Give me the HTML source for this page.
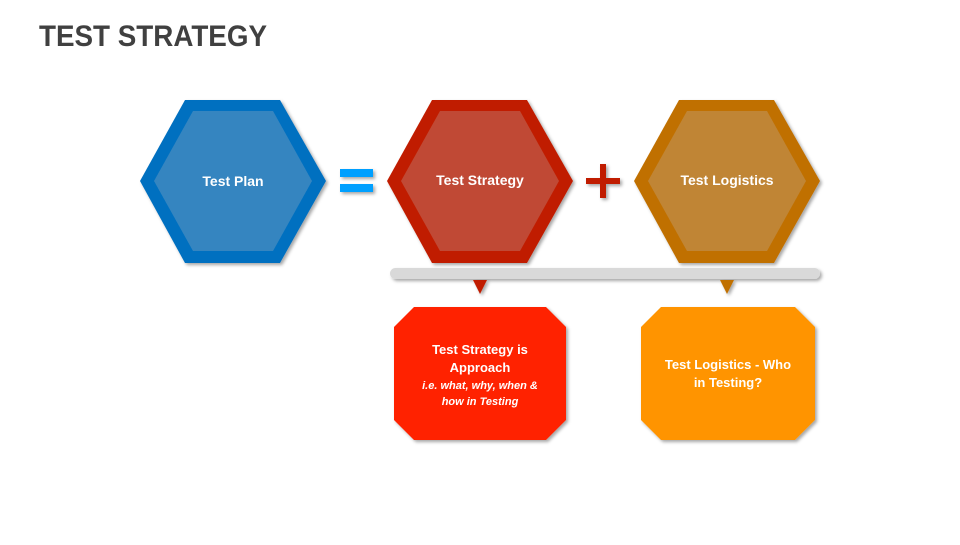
<!DOCTYPE html>
<html><head><style>
body{margin:0;width:960px;height:540px;background:#fff;overflow:hidden;font-family:"Liberation Sans",sans-serif;}
</style></head><body>
<svg width="960" height="540" xmlns="http://www.w3.org/2000/svg" font-family="Liberation Sans, sans-serif">
<defs><filter id="s" x="-10%" y="-10%" width="130%" height="130%"><feDropShadow dx="2" dy="2" stdDeviation="1.5" flood-opacity="0.35"/></filter></defs>
<text x="39" y="46" font-size="30" font-weight="bold" fill="#404040" textLength="228" lengthAdjust="spacingAndGlyphs">TEST STRATEGY</text>
<g filter="url(#s)">
<polygon points="140,181 185,100 280,100 326,181 280,263 185,263" fill="#0070c0"/>
<polygon points="154,181 193,111 273,111 312,181 273,251 193,251" fill="#3585c0"/>
<polygon points="387,181 432,100 527,100 573,181 527,263 432,263" fill="#c01e00"/>
<polygon points="401,181 440,111 520,111 559,181 520,251 440,251" fill="#c04a35"/>
<polygon points="634,181 679,100 774,100 820,181 774,263 679,263" fill="#c07000"/>
<polygon points="648,181 687,111 767,111 806,181 767,251 687,251" fill="#c08535"/>
<rect x="340" y="169" width="33" height="8" fill="#00a0ff"/>
<rect x="340" y="184" width="33" height="8" fill="#00a0ff"/>
<rect x="586" y="178" width="34" height="6" fill="#c01e00"/>
<rect x="600" y="164" width="6" height="34" fill="#c01e00"/>
<rect x="390" y="268" width="430" height="11" rx="5.5" fill="#d9d9d9"/>
<polygon points="473,280 487,280 480,294" fill="#c01e00"/>
<polygon points="720,280 734,280 727,294" fill="#c07000"/>
<polygon points="414,307 546,307 566,327 566,420 546,440 414,440 394,420 394,327" fill="#ff2400"/>
<polygon points="661,307 795,307 815,327 815,420 795,440 661,440 641,420 641,327" fill="#ff9400"/>
</g>
<g fill="#fff" font-weight="bold" text-anchor="middle" font-size="14">
<text x="233" y="186">Test Plan</text>
<text x="480" y="185">Test Strategy</text>
<text x="727" y="185">Test Logistics</text>
<text x="480" y="354" font-size="13">Test Strategy is</text>
<text x="480" y="372" font-size="13">Approach</text>
<text x="480" y="389" font-size="11" font-style="italic">i.e. what, why, when &amp;</text>
<text x="480" y="405" font-size="11" font-style="italic">how in Testing</text>
<text x="728" y="369" font-size="13">Test Logistics - Who</text>
<text x="728" y="387" font-size="13">in Testing?</text>
</g>
</svg>
</body></html>
